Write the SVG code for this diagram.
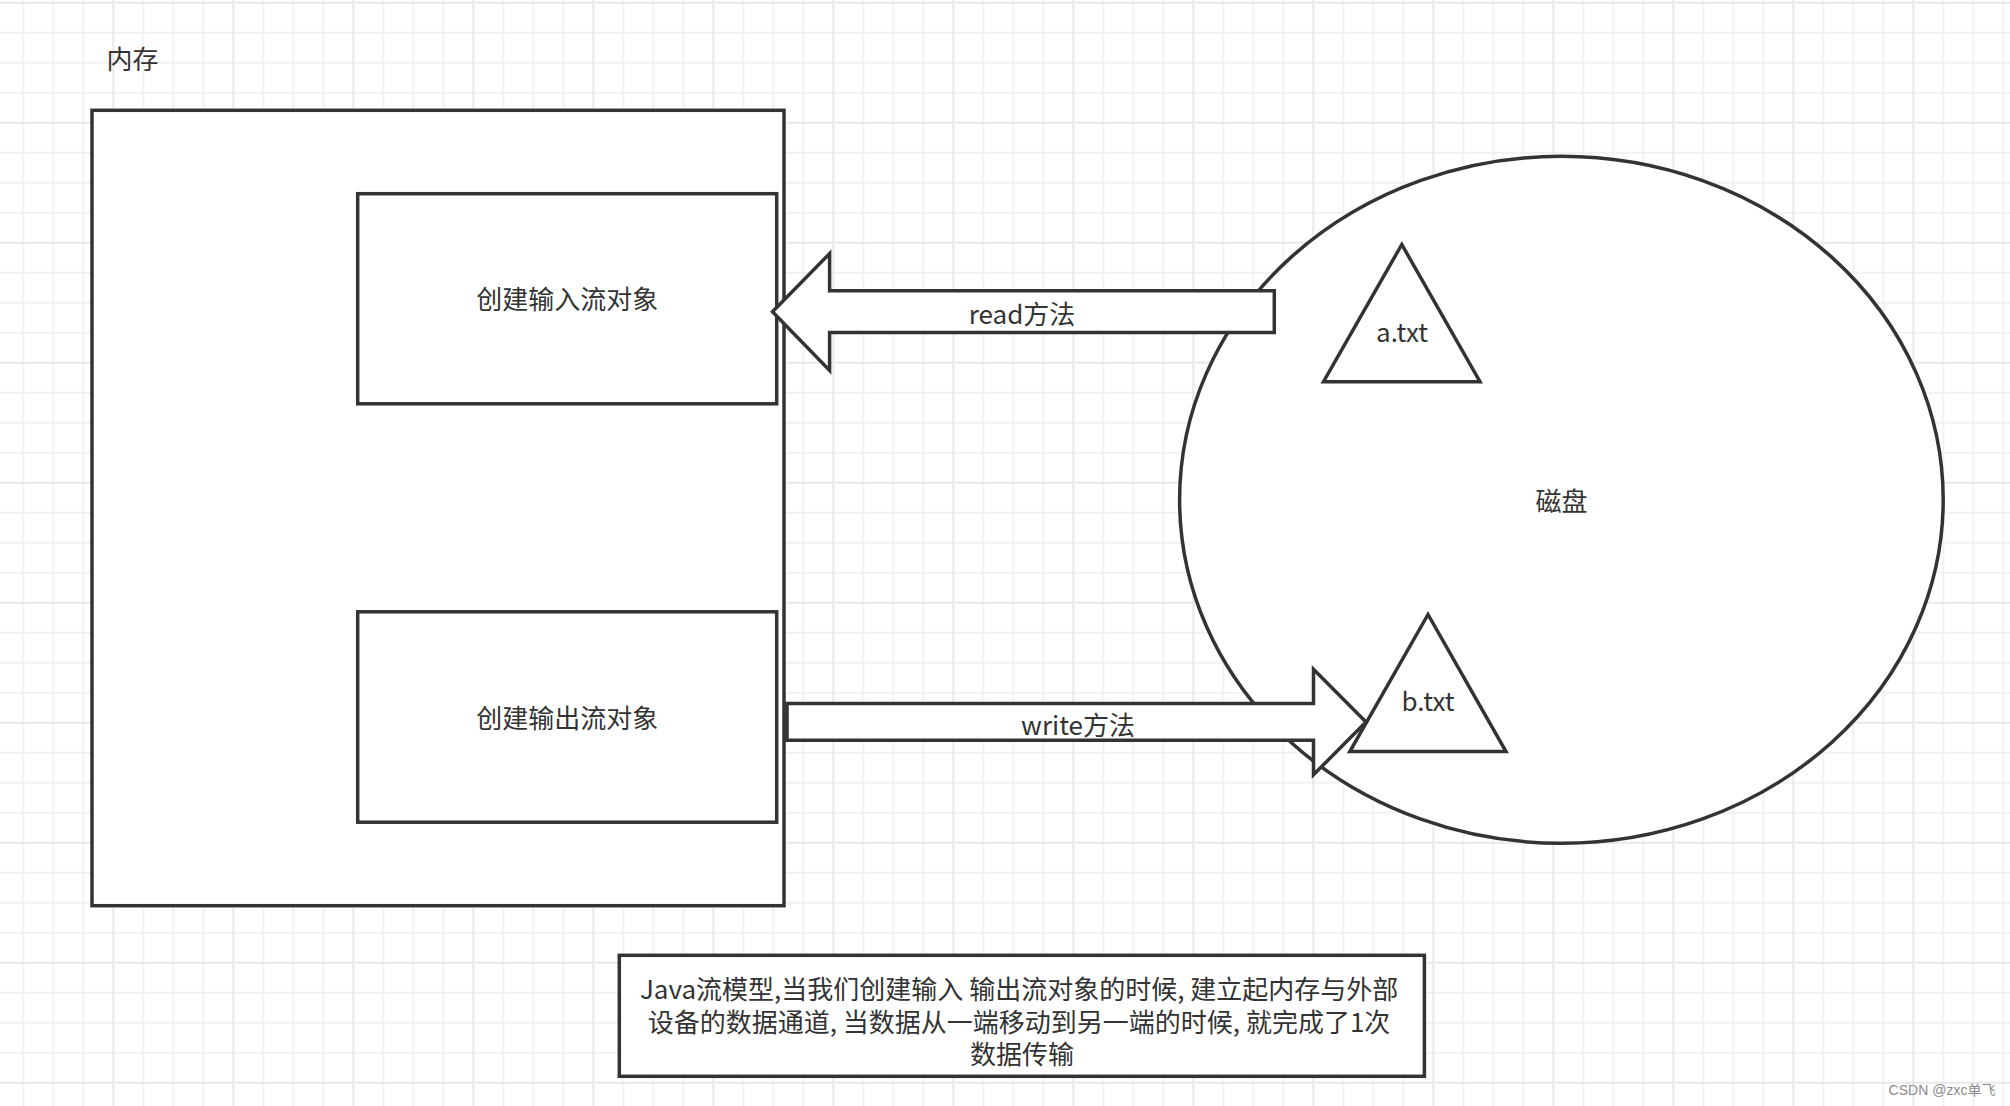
<svg xmlns="http://www.w3.org/2000/svg" width="2010" height="1106" viewBox="0 0 2010 1106">
  <defs>
    <pattern id="grid" patternUnits="userSpaceOnUse" x="112.4" y="1.8" width="120" height="120">
      <rect x="30" y="0" width="1.8" height="120" fill="#f1f1f1"/>
      <rect x="60" y="0" width="1.8" height="120" fill="#f1f1f1"/>
      <rect x="90" y="0" width="1.8" height="120" fill="#f1f1f1"/>
      <rect x="0" y="30" width="120" height="1.8" fill="#f1f1f1"/>
      <rect x="0" y="60" width="120" height="1.8" fill="#f1f1f1"/>
      <rect x="0" y="90" width="120" height="1.8" fill="#f1f1f1"/>
      <rect x="0" y="0" width="1.8" height="120" fill="#e7e7e7"/>
      <rect x="0" y="0" width="120" height="1.8" fill="#e7e7e7"/>
    </pattern>
    <style>
      .shape { fill: #ffffff; stroke: #333333; stroke-width: 3.5; stroke-linejoin: miter; }
      .label { font-family: "Noto Sans CJK SC", "Noto Sans", sans-serif; font-size: 26px; fill: #333333; text-anchor: middle; dominant-baseline: central; }
      .wm { font-family: "Liberation Sans", "Noto Sans CJK SC", sans-serif; font-size: 14px; fill: #8c8c8c; text-anchor: middle; dominant-baseline: central; }
    </style>
  </defs>

  <rect x="0" y="0" width="2010" height="1106" fill="#ffffff"/>
  <rect x="0" y="0" width="2010" height="1106" fill="url(#grid)"/>

  <g id="memory-label">
    <text class="label" x="132.5" y="57">内存</text>
  </g>

  <g id="memory">
    <rect class="shape" x="92" y="110.3" width="692" height="795.4"/>
  </g>

  <g id="input-stream">
    <rect class="shape" x="357.7" y="193.7" width="419" height="210.1"/>
    <text class="label" x="567.2" y="297.5">创建输入流对象</text>
  </g>

  <g id="output-stream">
    <rect class="shape" x="357.7" y="611.8" width="419" height="210.4"/>
    <text class="label" x="567.2" y="716.5">创建输出流对象</text>
  </g>

  <g id="disk">
    <ellipse class="shape" cx="1561.4" cy="499.8" rx="381.8" ry="343.5"/>
    <text class="label" x="1561.4" y="499">磁盘</text>
  </g>

  <g id="file-a">
    <polygon class="shape" points="1401.8,244.5 1323.5,381.7 1480,381.7"/>
    <text class="label" x="1402" y="330.2">a.txt</text>
  </g>

  <g id="file-b">
    <polygon class="shape" points="1428,614.5 1349.8,751.6 1506,751.6"/>
    <text class="label" x="1428" y="699.5">b.txt</text>
  </g>

  <g id="connectors">
    <g id="read-arrow">
      <polygon class="shape" points="772.5,311.8 829.6,253.6 829.6,290.8 1274.3,290.8 1274.3,332.5 829.6,332.5 829.6,370.4"/>
      <text class="label" x="1022" y="312.5">read方法</text>
    </g>
    <g id="write-arrow">
      <polygon class="shape" points="787,703.5 1313.5,703.5 1313.5,669.2 1366,721.9 1313.5,774.8 1313.5,740.2 787,740.2"/>
      <text class="label" x="1078" y="723">write方法</text>
    </g>
  </g>

  <g id="description">
    <rect class="shape" x="619.3" y="955.3" width="805.1" height="121"/>
    <text class="label">
      <tspan x="1022" y="987">Java流模型,当我们创建输入 输出流对象的时候, 建立起内存与外部</tspan>
      <tspan x="1022" y="1020">设备的数据通道, 当数据从一端移动到另一端的时候, 就完成了1次</tspan>
      <tspan x="1022" y="1052">数据传输</tspan>
    </text>
  </g>

  <g id="watermark">
    <text class="wm" x="1942" y="1090">CSDN @zxc单飞</text>
  </g>
</svg>
